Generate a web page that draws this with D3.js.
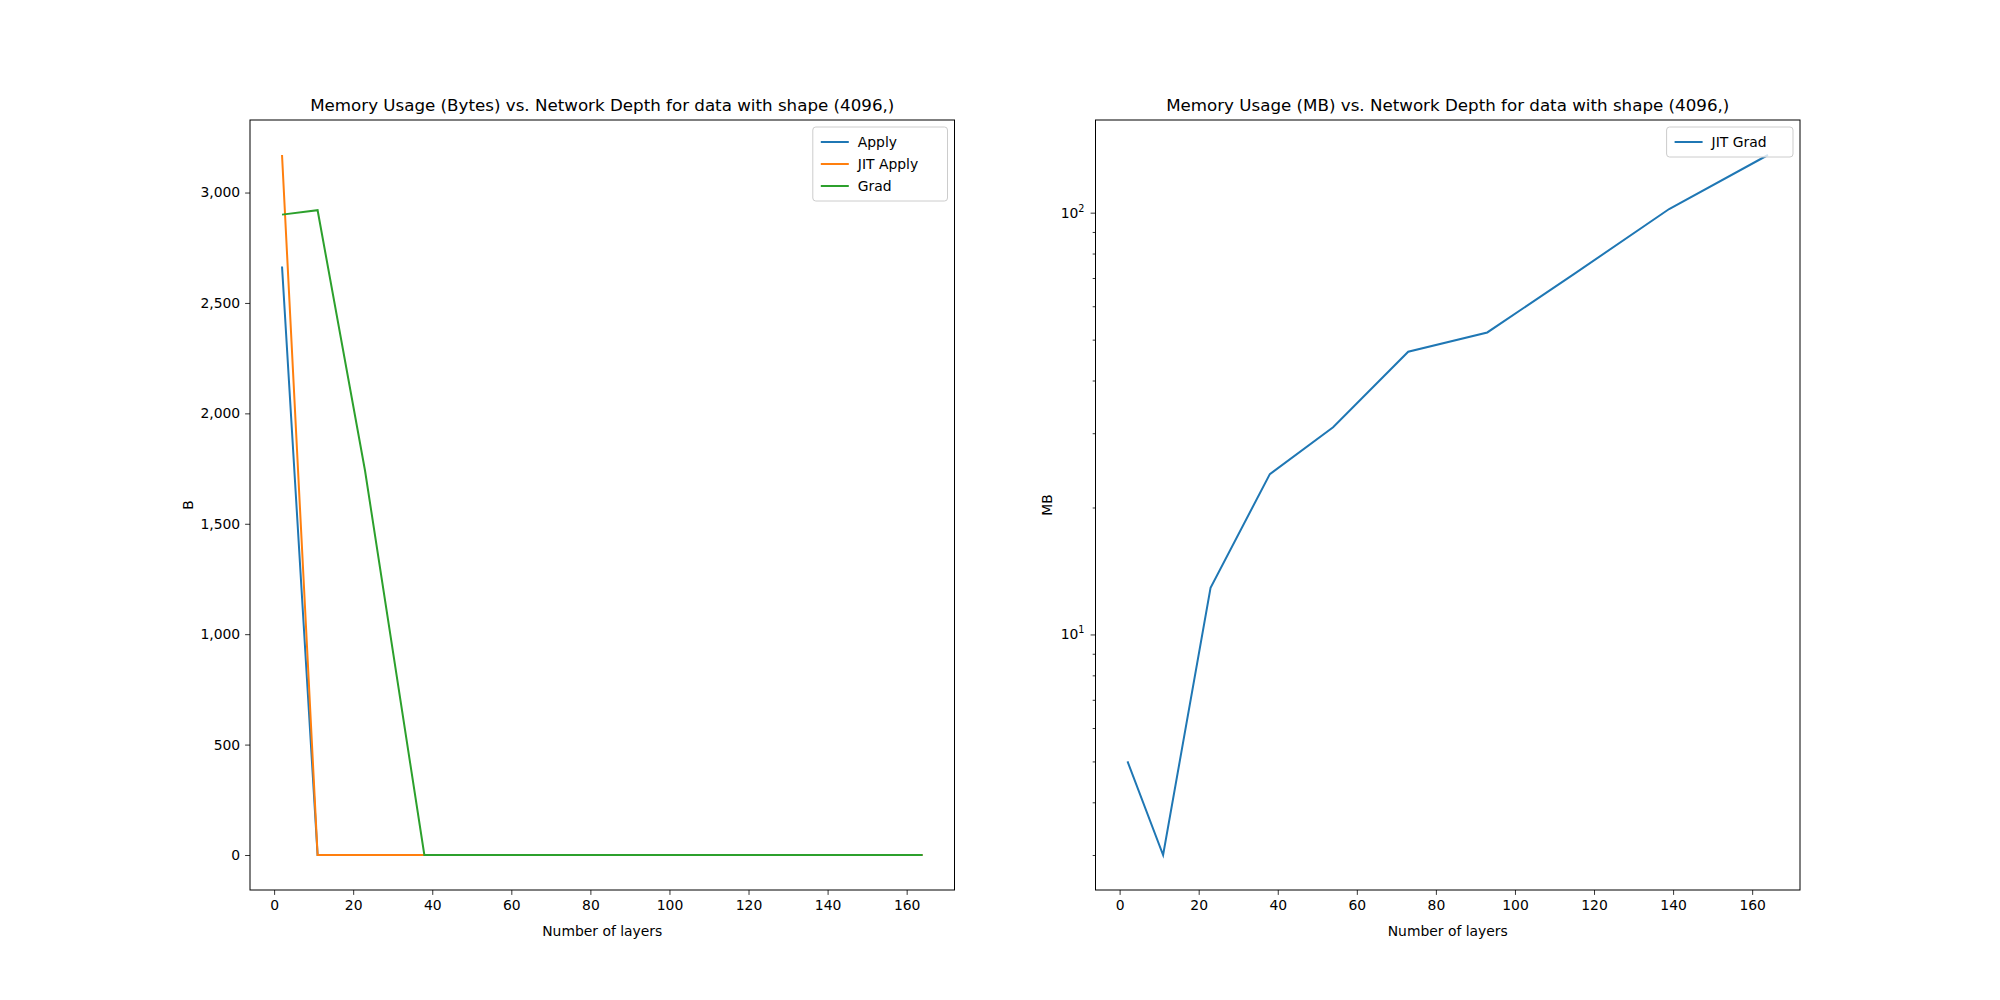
<!DOCTYPE html>
<html>
<head>
<meta charset="utf-8">
<script src="https://cdn.jsdelivr.net/npm/d3@7"></script>
<style>
  body { margin: 0; background: #fff; }
  text { font-family: "DejaVu Sans", sans-serif; }
</style>
</head>
<body>
<svg id="chart" width="2000" height="1000"></svg>
<script>
const layers = [2, 11, 23, 38, 54, 73, 93, 115, 139, 164]
const applyBytes = [2665, 0, 0, 0, 0, 0, 0, 0, 0, 0]
const jitApplyBytes = [3170, 0, 0, 0, 0, 0, 0, 0, 0, 0]
const gradBytes = [2900, 2920, 1740, 0, 0, 0, 0, 0, 0, 0]
const jitGradMB = [5.0, 3.0, 12.9, 24, 31, 46.8, 52, 71.6, 102, 137]
const xTicks = [0, 20, 40, 60, 80, 100, 120, 140, 160]
const yTicksLeft = [0, 500, 1000, 1500, 2000, 2500, 3000]

const svg = d3.select("#chart")
const plotTop = 120, plotBottom = 890

function pad(lo, hi) { const m = (hi - lo) * 0.05; return [lo - m, hi + m] }

function frame(g, x0, x1, title, xlab, ylab, ylabX) {
  g.append("rect").attr("x", x0).attr("y", plotTop).attr("width", x1 - x0).attr("height", plotBottom - plotTop)
    .attr("fill", "none").attr("stroke", "#000").attr("stroke-width", 1)
  g.append("text").attr("x", (x0 + x1) / 2).attr("y", plotTop - 9).attr("text-anchor", "middle")
    .attr("font-size", 16.7).text(title)
  g.append("text").attr("x", (x0 + x1) / 2).attr("y", plotBottom + 46).attr("text-anchor", "middle")
    .attr("font-size", 13.9).text(xlab)
  g.append("text").attr("transform", `translate(${ylabX},${(plotTop + plotBottom) / 2}) rotate(-90)`)
    .attr("text-anchor", "middle").attr("font-size", 13.9).text(ylab)
}

function styleAxis(a) {
  a.select(".domain").remove()
  a.selectAll("line").attr("stroke", "#000").attr("stroke-width", 0.8)
  a.selectAll("text").attr("font-size", 13.9).attr("font-family", "DejaVu Sans").attr("fill", "#000")
}

function legend(g, xRight, items) {
  const w = d3.max(items, d => d.name.length) * 8.3 + 60, h = items.length * 22 + 8
  const lg = g.append("g").attr("transform", `translate(${xRight - w - 7},${plotTop + 7})`)
  lg.append("rect").attr("width", w).attr("height", h).attr("rx", 3).attr("fill", "#fff")
    .attr("fill-opacity", 0.8).attr("stroke", "#ccc")
  items.forEach((d, i) => {
    const y = 15 + i * 22
    lg.append("line").attr("x1", 8).attr("x2", 36).attr("y1", y).attr("y2", y)
      .attr("stroke", d.color).attr("stroke-width", 2)
    lg.append("text").attr("x", 45).attr("y", y + 5).attr("font-size", 13.9).text(d.name)
  })
}

// left panel
const xL = d3.scaleLinear().domain(pad(2, 164)).range([250, 954.5])
const yL = d3.scaleLinear().domain(pad(0, 3170)).range([plotBottom, plotTop])
const gL = svg.append("g")
const seriesL = [
  {name: "Apply", color: "#1f77b4", vals: applyBytes},
  {name: "JIT Apply", color: "#ff7f0e", vals: jitApplyBytes},
  {name: "Grad", color: "#2ca02c", vals: gradBytes}
]
seriesL.forEach(s => {
  gL.append("path").datum(s.vals).attr("fill", "none").attr("stroke", s.color).attr("stroke-width", 2)
    .attr("d", d3.line().x((d, i) => xL(layers[i])).y(d => yL(d)))
})
styleAxis(gL.append("g").attr("transform", `translate(0,${plotBottom})`)
  .call(d3.axisBottom(xL).tickValues(xTicks).tickSize(4.9).tickPadding(4.9)))
styleAxis(gL.append("g").attr("transform", "translate(250,0)")
  .call(d3.axisLeft(yL).tickValues(yTicksLeft).tickSize(4.9).tickPadding(4.9)))
frame(gL, 250, 954.5, "Memory Usage (Bytes) vs. Network Depth for data with shape (4096,)",
  "Number of layers", "B", 193)
legend(gL, 954.5, seriesL)

// right panel
const xR = d3.scaleLinear().domain(pad(2, 164)).range([1095.5, 1800])
const lr = pad(Math.log10(3.0), Math.log10(137))
const yR = d3.scaleLog().domain([10 ** lr[0], 10 ** lr[1]]).range([plotBottom, plotTop])
const gR = svg.append("g")
gR.append("path").datum(jitGradMB).attr("fill", "none").attr("stroke", "#1f77b4").attr("stroke-width", 2)
  .attr("d", d3.line().x((d, i) => xR(layers[i])).y(d => yR(d)))
styleAxis(gR.append("g").attr("transform", `translate(0,${plotBottom})`)
  .call(d3.axisBottom(xR).tickValues(xTicks).tickSize(4.9).tickPadding(4.9)))
const minor = []
for (let e = 0; e <= 2; e++) for (let k = 2; k <= 9; k++) {
  const v = k * 10 ** e
  if (v >= yR.domain()[0] && v <= yR.domain()[1]) minor.push(v)
}
styleAxis(gR.append("g").attr("transform", "translate(1095.5,0)")
  .call(d3.axisLeft(yR).tickValues(minor).tickSize(2.8).tickFormat("")))
const major = gR.append("g").attr("transform", "translate(1095.5,0)")
  .call(d3.axisLeft(yR).tickValues([10, 100]).tickSize(4.9).tickPadding(4.9).tickFormat(""))
styleAxis(major)
;[[10, "1"], [100, "2"]].forEach(([v, e]) => {
  const t = gR.append("text").attr("x", 1095.5 - 11).attr("y", yR(v) + 5)
    .attr("text-anchor", "end").attr("font-size", 13.9)
  t.append("tspan").text("10")
  t.append("tspan").attr("font-size", 9.7).attr("dy", -6).text(e)
})
frame(gR, 1095.5, 1800, "Memory Usage (MB) vs. Network Depth for data with shape (4096,)",
  "Number of layers", "MB", 1052)
legend(gR, 1800, [{name: "JIT Grad", color: "#1f77b4"}])
</script>
</body>
</html>
